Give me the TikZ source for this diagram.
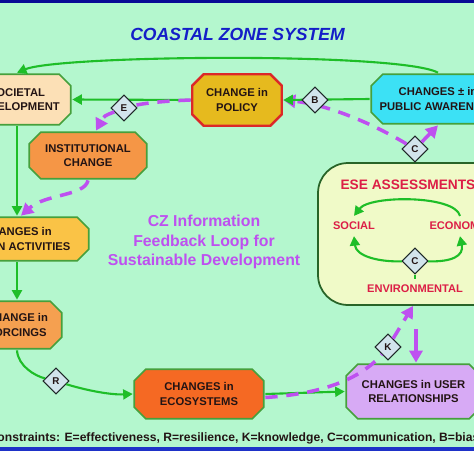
\documentclass[tikz,border=0pt]{standalone}
\usepackage{fontspec}
\setmainfont{Liberation Sans}
\usetikzlibrary{shapes.geometric,arrows.meta}

\definecolor{mint}{RGB}{180,247,206}
\definecolor{navy}{RGB}{10,10,150}
\definecolor{rulebl}{RGB}{30,50,200}
\definecolor{titleblue}{RGB}{20,30,200}
\definecolor{flowgreen}{RGB}{30,190,40}
\definecolor{infopurple}{RGB}{190,80,240}
\definecolor{boxline}{RGB}{70,160,60}
\definecolor{darktext}{RGB}{35,20,20}
\definecolor{socfill}{RGB}{252,224,182}
\definecolor{polfill}{RGB}{230,186,30}
\definecolor{polline}{RGB}{220,40,40}
\definecolor{awarefill}{RGB}{60,225,245}
\definecolor{instfill}{RGB}{245,150,70}
\definecolor{humfill}{RGB}{250,195,70}
\definecolor{forcfill}{RGB}{245,160,80}
\definecolor{ecofill}{RGB}{245,105,35}
\definecolor{userfill}{RGB}{215,170,245}
\definecolor{esefill}{RGB}{240,250,200}
\definecolor{eseline}{RGB}{40,100,40}
\definecolor{esered}{RGB}{220,30,70}
\definecolor{gatefill}{RGB}{210,228,236}
\definecolor{gateline}{RGB}{30,40,40}

\def\bb{path picture bounding box}
\tikzset{
  box/.style 2 args={rectangle, inner sep=0pt, align=center, text=darktext,
    font=\fontsize{6.4}{8}\selectfont\bfseries,
    path picture={
      \filldraw[fill=#1, draw=boxline, line width=0.9pt, #2]
        ([xshift=7.2pt,yshift=-0.7pt]\bb.north west) -- ([xshift=-7.2pt,yshift=-0.7pt]\bb.north east)
        -- ([xshift=-0.7pt,yshift=-7.2pt]\bb.north east) -- ([xshift=-0.7pt,yshift=7.2pt]\bb.south east)
        -- ([xshift=-7.2pt,yshift=0.7pt]\bb.south east) -- ([xshift=7.2pt,yshift=0.7pt]\bb.south west)
        -- ([xshift=0.7pt,yshift=7.2pt]\bb.south west) -- ([xshift=0.7pt,yshift=-7.2pt]\bb.north west)
        -- cycle;
    }},
  gate/.style={diamond, draw=gateline, fill=gatefill, line width=0.6pt,
    minimum size=0.52cm, inner sep=0pt, text=darktext,
    font=\fontsize{5.6}{6}\selectfont\bfseries},
  esetext/.style={text=esered, font=\fontsize{6.3}{7}\selectfont\bfseries},
  flow/.style={draw=flowgreen, line width=1.2pt,
    -{Triangle[length=0.19cm,width=0.2cm]}},
  link/.style={draw=flowgreen, line width=1.2pt},
  info/.style={draw=infopurple, line width=2pt, dash pattern=on 7pt off 5pt,
    -{Triangle[length=0.24cm,width=0.26cm]}},
  infoline/.style={draw=infopurple, line width=2pt, dash pattern=on 7pt off 5pt},
  infotip/.style={draw=infopurple, line width=2pt,
    -{Triangle[length=0.24cm,width=0.26cm]}},
}

\begin{document}
\begin{tikzpicture}[x=0.02cm, y=-0.02cm]

  \useasboundingbox (0,0) rectangle (474,474);
  \clip (0,0) rectangle (474,474);
  \fill[white] (0,0) rectangle (474,474);
  \fill[mint] (0,2) rectangle (474,448);
  \fill[navy] (0,0) rectangle (474,2.5);
  \fill[rulebl] (0,447) rectangle (474,451);

  \node[text=titleblue, font=\fontsize{10}{12}\selectfont\bfseries\itshape] (title) at (237.5,34.5) {COASTAL ZONE SYSTEM};

  % boxes
  \node[box={socfill}{}, minimum width=2.2cm, minimum height=1.06cm] (societal) at (17,99.5) {SOCIETAL\\DEVELOPMENT};
  \node[box={polfill}{draw=polline, line width=1.4pt}, minimum width=1.84cm, minimum height=1.08cm] (policy) at (237,100) {CHANGE in\\POLICY};
  \node[box={awarefill}{}, minimum width=2.72cm, minimum height=1.04cm] (aware) at (438,99) {CHANGES ± in\\PUBLIC AWARENESS};
  \node[box={instfill}{}, minimum width=2.4cm, minimum height=0.98cm] (inst) at (88,155.5) {INSTITUTIONAL\\CHANGE};
  \node[box={humfill}{}, minimum width=2.92cm, minimum height=0.92cm] (human) at (17,239) {CHANGES in\\HUMAN ACTIVITIES};
  \node[box={forcfill}{}, minimum width=1.84cm, minimum height=1.0cm] (forcing) at (17,325) {CHANGE in\\FORCINGS};
  \node[box={ecofill}{}, minimum width=2.64cm, minimum height=1.04cm] (eco) at (199,394) {CHANGES in\\ECOSYSTEMS};
  \node[box={userfill}{}, minimum width=2.74cm, minimum height=1.14cm] (user) at (413.5,391.5) {CHANGES in USER\\RELATIONSHIPS};

  \node[draw=eseline, fill=esefill, line width=1pt, rounded corners=0.6cm, minimum width=3.84cm, minimum height=2.84cm] (ese) at (414,234) {};
  \node[esetext, font=\fontsize{7.8}{9}\selectfont\bfseries] (esetitle) at (408,185) {ESE ASSESSMENTS};
  \node[esetext] (social) at (354,226) {SOCIAL};
  \node[esetext] (econ) at (460,226) {ECONOMIC};
  \node[esetext] (env) at (415,289) {ENVIRONMENTAL};

  \node[text=infopurple, align=center, font=\fontsize{9}{11.3}\selectfont\bfseries] (loop) at (204,242) {CZ Information\\Feedback Loop for\\Sustainable Development};

  \node[text=darktext, font=\fontsize{6.9}{8}\selectfont\bfseries] (legend) at (234,438) {Constraints: E=effectiveness, R=resilience, K=knowledge, C=communication, B=bias};

  % green flows
  \draw[flow] (aware.north) .. controls (400,52) and (60,55) .. (societal.north);
  \draw[flow] (policy.west) -- (societal.east);
  \draw[flow] (societal.south) -- (human.north);
  \draw[flow] (human.south) -- (forcing.north);
  \draw[flow] (eco.east) -- (user.west);

  % purple feedback
  \node[gate] (gC1) at (415,149) {C};
  \draw[info] (gC1) .. controls (375,125) and (330,105) .. (policy.east);
  \draw[infotip] (gC1) -- (aware.south);
  \draw[flow] (aware.west) -- (policy.east);
  \node[gate] (gB) at (315,100) {B};

  \node[gate] (gE) at (124,108) {E};
  \draw[infoline] (policy.west) .. controls (165,101) and (145,103) .. (gE);
  \draw[info] (gE) .. controls (104,116) .. ([xshift=0.16cm]inst.north);
  \draw[info] (inst.south) .. controls (85,196) and (45,194) .. ([xshift=0.08cm]human.north);

  \node[gate] (gR) at (56,381) {R};
  \draw[link] (forcing.south) .. controls (18,366) and (35,376) .. (gR);
  \draw[flow] (gR) .. controls (85,390) and (110,395) .. (eco.west);

  \node[gate] (gK) at (388,347) {K};
  \draw[infoline] ([yshift=-2pt]eco.east) .. controls (320,394) and (360,380) .. (gK);
  \draw[info] (gK) -- ([xshift=-0.02cm]ese.south);
  \coordinate (drop) at (416,329);
  \draw[infotip] (drop) -- (drop |- user.north);

  % inside ESE
  \node[gate] (gC2) at (415,261) {C};
  \draw[flow] (gC2) .. controls (378,262) and (356,256) .. (social.south);
  \draw[flow] (gC2) .. controls (452,262) and (464,256) .. (econ.south);
  \draw[flow] (econ.north) .. controls (455,195) and (370,195) .. (social.north);
  \draw[link] (gC2) -- (env.north);

\end{tikzpicture}
\end{document}
